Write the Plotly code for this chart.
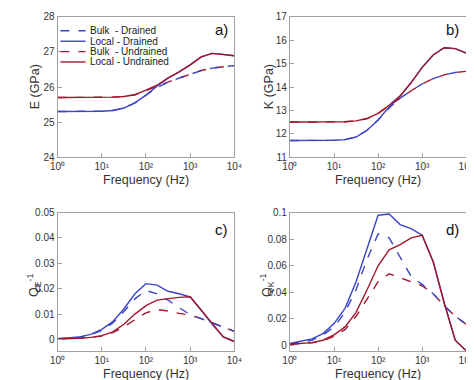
import plotly.graph_objects as go

freq = [1, 1.778, 3.162, 5.623, 10, 17.78, 31.62, 56.23, 100, 177.8, 316.2, 562.3, 1000, 1778, 3162, 5623, 10000]

# Panel a: E (GPa)
E_local_drained   = [25.30, 25.30, 25.30, 25.30, 25.31, 25.33, 25.40, 25.55, 25.77, 26.02, 26.25, 26.43, 26.63, 26.86, 26.96, 26.93, 26.89]
E_local_undrained = [25.70, 25.70, 25.70, 25.70, 25.70, 25.71, 25.73, 25.78, 25.91, 26.05, 26.26, 26.43, 26.63, 26.86, 26.96, 26.93, 26.89]
E_bulk_drained    = [25.30, 25.30, 25.30, 25.30, 25.31, 25.33, 25.40, 25.55, 25.77, 25.98, 26.14, 26.26, 26.36, 26.47, 26.54, 26.58, 26.61]
E_bulk_undrained  = [25.70, 25.70, 25.70, 25.70, 25.70, 25.71, 25.73, 25.78, 25.90, 26.02, 26.15, 26.26, 26.36, 26.47, 26.54, 26.58, 26.61]

# Panel b: K (GPa)
K_local_drained   = [11.71, 11.71, 11.71, 11.71, 11.72, 11.75, 11.86, 12.15, 12.59, 13.15, 13.60, 14.19, 14.84, 15.37, 15.68, 15.64, 15.45]
K_local_undrained = [12.50, 12.50, 12.50, 12.50, 12.50, 12.51, 12.55, 12.65, 12.87, 13.22, 13.62, 14.19, 14.84, 15.37, 15.68, 15.64, 15.45]
K_bulk_drained    = [11.71, 11.71, 11.71, 11.71, 11.72, 11.75, 11.86, 12.15, 12.59, 13.10, 13.52, 13.84, 14.13, 14.36, 14.52, 14.62, 14.67]
K_bulk_undrained  = [12.50, 12.50, 12.50, 12.50, 12.50, 12.51, 12.55, 12.65, 12.87, 13.20, 13.54, 13.84, 14.13, 14.36, 14.52, 14.62, 14.67]

# Panel c: Q_E^-1
QE_local_drained   = [0.0003, 0.0006, 0.0010, 0.0020, 0.0040, 0.0070, 0.0120, 0.0180, 0.0220, 0.0214, 0.0190, 0.0180, 0.0168, 0.0115, 0.0060, 0.0010, -0.0008]
QE_local_undrained = [0.0002, 0.0003, 0.0005, 0.0008, 0.0015, 0.0030, 0.0060, 0.0100, 0.0133, 0.0155, 0.0160, 0.0166, 0.0168, 0.0115, 0.0060, 0.0010, -0.0008]
QE_bulk_drained    = [0.0003, 0.0005, 0.0009, 0.0018, 0.0035, 0.0065, 0.0110, 0.0160, 0.0193, 0.0180, 0.0155, 0.0125, 0.0098, 0.0082, 0.0065, 0.0050, 0.0032]
QE_bulk_undrained  = [0.0002, 0.0003, 0.0005, 0.0008, 0.0013, 0.0027, 0.0050, 0.0078, 0.0105, 0.0118, 0.0112, 0.0103, 0.0096, 0.0082, 0.0065, 0.0050, 0.0032]

# Panel d: Q_K^-1
QK_local_drained   = [0.0015, 0.0030, 0.0050, 0.0090, 0.0165, 0.0280, 0.0480, 0.0730, 0.0980, 0.0990, 0.0910, 0.0880, 0.0830, 0.0630, 0.0320, 0.0040, -0.0040]
QK_local_undrained = [0.0010, 0.0015, 0.0022, 0.0040, 0.0080, 0.0140, 0.0250, 0.0420, 0.0600, 0.0720, 0.0760, 0.0810, 0.0830, 0.0630, 0.0320, 0.0040, -0.0040]
QK_bulk_drained    = [0.0012, 0.0025, 0.0040, 0.0080, 0.0140, 0.0250, 0.0420, 0.0650, 0.0840, 0.0810, 0.0660, 0.0520, 0.0460, 0.0390, 0.0300, 0.0220, 0.0160]
QK_bulk_undrained  = [0.0010, 0.0014, 0.0020, 0.0035, 0.0070, 0.0120, 0.0220, 0.0350, 0.0480, 0.0540, 0.0510, 0.0480, 0.0450, 0.0390, 0.0300, 0.0220, 0.0160]

legend_labels = ["Bulk  - Drained", "Local - Drained", "Bulk  - Undrained", "Local - Undrained"]
panel_labels = ["a)", "b)", "c)", "d)"]
y_titles = ["E (GPa)", "K (GPa)", "Q<sub>E</sub><sup>-1</sup>", "Q<sub>K</sub><sup>-1</sup>"]
x_title = "Frequency (Hz)"
x_tickvals = [1, 10, 100, 1000, 10000]
x_ticktext = ["10\u2070", "10\u00b9", "10\u00b2", "10\u00b3", "10\u2074"]

BLUE = "#3a44c6"
RED = "#a3172e"
GREY = "#a0a0a0"
FONT = "Liberation Sans, Arial, sans-serif"

panels = [
    ("x", "y", [E_bulk_drained, E_local_drained, E_bulk_undrained, E_local_undrained]),
    ("x2", "y2", [K_bulk_drained, K_local_drained, K_bulk_undrained, K_local_undrained]),
    ("x3", "y3", [QE_bulk_drained, QE_local_drained, QE_bulk_undrained, QE_local_undrained]),
    ("x4", "y4", [QK_bulk_drained, QK_local_drained, QK_bulk_undrained, QK_local_undrained]),
]
styles = [(BLUE, "dash"), (BLUE, "solid"), (RED, "dash"), (RED, "solid")]

fig = go.Figure()
for xa, ya, series in panels:
    for i in [2, 0, 1, 3]:
        c, d = styles[i]
        fig.add_trace(go.Scatter(x=freq, y=series[i], xaxis=xa, yaxis=ya, mode="lines",
                                 line=dict(color=c, dash=d, width=1.4), showlegend=False,
                                 name=legend_labels[i]))

xd_left = [43 / 474, 226 / 474]
xd_right = [283.5 / 474, 466 / 474]
yd_top = [1 - 148 / 380, 1 - 4 / 380]
yd_bot = [1 - 347 / 380, 1 - 205 / 380]

axcommon = dict(showline=True, linecolor=GREY, linewidth=1, mirror=True,
                ticks="inside", ticklen=4, tickcolor=GREY, showgrid=False, zeroline=False,
                tickfont=dict(family=FONT, size=10, color="#333"))

def xaxis(domain, anchor):
    return dict(axcommon, type="log", range=[0, 4], domain=domain, anchor=anchor,
                tickmode="array", tickvals=x_tickvals, ticktext=x_ticktext)

def yaxis(domain, anchor, rng, dtick):
    return dict(axcommon, range=rng, domain=domain, anchor=anchor, tick0=0, dtick=dtick)

fig.update_layout(
    width=474, height=380, margin=dict(l=0, r=0, t=0, b=0),
    paper_bgcolor="white", plot_bgcolor="white", showlegend=False,
    font=dict(family=FONT, color="#333"),
    xaxis=xaxis(xd_left, "y"),
    yaxis=yaxis(yd_top, "x", [24, 28], 1),
    xaxis2=xaxis(xd_right, "y2"),
    yaxis2=yaxis(yd_top, "x2", [11, 17], 1),
    xaxis3=xaxis(xd_left, "y3"),
    yaxis3=yaxis(yd_bot, "x3", [-0.0045, 0.05], 0.01),
    xaxis4=xaxis(xd_right, "y4"),
    yaxis4=yaxis(yd_bot, "x4", [-0.004, 0.1], 0.02),
)

# Axis titles as annotations for precise placement
xt_pos = [(134.5, 172), (375, 172), (134.5, 371), (375, 371)]
for (px, py) in xt_pos:
    fig.add_annotation(x=px / 474, y=1 - py / 380, xref="paper", yref="paper", text=x_title, showarrow=False,
                       xanchor="center", yanchor="middle", font=dict(family=FONT, size=12.5, color="#333"))
yt_pos = [(20, 76), (262, 76), (18, 280), (259, 280)]
for t, (px, py) in zip(y_titles, yt_pos):
    fig.add_annotation(x=px / 474, y=1 - py / 380, xref="paper", yref="paper", text=t, showarrow=False,
                       textangle=-90, xanchor="center", yanchor="middle", font=dict(family=FONT, size=12.5, color="#333"))

# Panel labels
label_pos = [(221, 17), (461, 17), (221, 222), (461, 222)]
for lab, (px, py) in zip(panel_labels, label_pos):
    fig.add_annotation(x=px / 474, y=1 - py / 380, xref="paper", yref="paper", text=lab, showarrow=False,
                       xanchor="right", yanchor="middle", font=dict(family=FONT, size=15, color="#111"))

# Custom legend inside panel a
rows_y = [18.3, 29.0, 39.7, 50.3]
for i, (lab, ry) in enumerate(zip(legend_labels, rows_y)):
    c, d = styles[i]
    yy = 1 - ry / 380
    fig.add_shape(type="line", xref="paper", yref="paper", x0=46 / 474, x1=72 / 474, y0=yy, y1=yy,
                  line=dict(color=c, dash=d, width=1.4))
    fig.add_annotation(x=74 / 474, y=yy, xref="paper", yref="paper", text=lab.replace("  ", "&nbsp; "),
                       showarrow=False, xanchor="left", yanchor="middle",
                       font=dict(family=FONT, size=10, color="#222"))

fig.write_html("out.html")
